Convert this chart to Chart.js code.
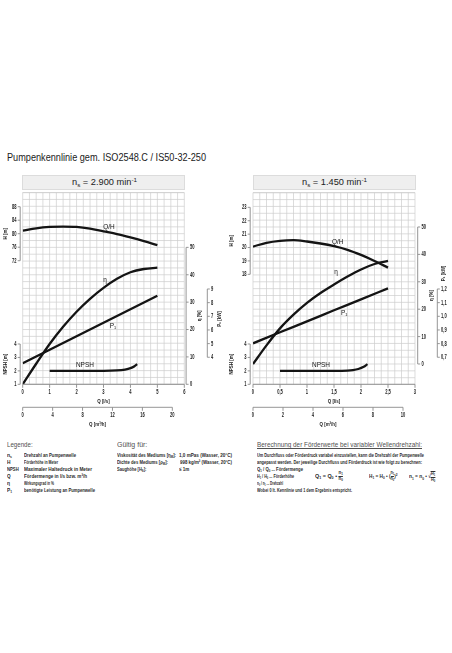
<!DOCTYPE html>
<html><head><meta charset="utf-8">
<script src="https://cdn.jsdelivr.net/npm/chart.js@4.4.0/dist/chart.umd.min.js"></script>
<style>
html,body{margin:0;padding:0;background:#fff;width:452px;height:653px;overflow:hidden;font-family:"Liberation Sans",Arial,sans-serif;color:#222}
.t{position:absolute;white-space:nowrap;line-height:1;transform-origin:0 50%;}
.b{font-weight:bold;font-size:5.6px;color:#2a2a2a}
.h{font-size:7.2px;color:#505050}
.u{text-decoration:underline;text-decoration-thickness:0.5px}
sub{font-size:0.68em;vertical-align:-0.3em;line-height:0}
sup{font-size:0.68em;vertical-align:0.45em;line-height:0}
.fr{display:inline-block;vertical-align:middle;text-align:center;font-size:0.8em;line-height:1}
.fr>span{display:block}
.fr>span:first-child{border-bottom:0.5px solid #333}
.ov{border-top:0.5px solid #333}
.box{position:absolute;background:#efefef;border:1px solid #dcdcdc;box-sizing:border-box}
canvas{position:absolute}
</style></head><body>

<div class="t" data-x="6.7" data-y="157.7" data-w="199" style="font-size:10.5px;color:#1a1a1a">Pumpenkennlinie gem. ISO2548.C / IS50-32-250</div>

<div class="box" style="left:22.3px;top:175px;width:162.3px;height:14.5px"></div>
<div class="box" style="left:253px;top:175px;width:162.7px;height:14.5px"></div>
<div class="t" data-x="72" data-y="182.3" data-w="65" style="font-size:9px">n<sub>s</sub> = 2.900 min<sup>-1</sup></div>
<div class="t" data-x="301.7" data-y="182.3" data-w="65" style="font-size:9px">n<sub>s</sub> = 1.450 min<sup>-1</sup></div>

<canvas id="cL" width="226" height="265" style="left:0;top:165px"></canvas>
<canvas id="cR" width="226" height="265" style="left:226px;top:165px"></canvas>

<!-- Legende -->
<div class="t h" data-x="6.7" data-y="445" data-w="25.6">Legende:</div>
<div class="t b" data-x="7" data-y="455.5" data-w="5">n<sub>s</sub></div>
<div class="t b" data-x="7" data-y="462.5" data-w="3.5">H</div>
<div class="t b" data-x="7" data-y="469.5" data-w="11.7">NPSH</div>
<div class="t b" data-x="7" data-y="476.5" data-w="3.6">Q</div>
<div class="t b" data-x="7" data-y="483.5" data-w="3">η</div>
<div class="t b" data-x="7" data-y="490.5" data-w="5">P<sub>1</sub></div>
<div class="t b" data-x="24" data-y="455.5" data-w="52">Drehzahl an Pumpenwelle</div>
<div class="t b" data-x="24" data-y="462.5" data-w="34">Förderhöhe in Meter</div>
<div class="t b" data-x="24" data-y="469.5" data-w="68">Maximaler Haltedruck in Meter</div>
<div class="t b" data-x="24" data-y="476.5" data-w="63">Fördermenge in l/s bzw. m³/h</div>
<div class="t b" data-x="24" data-y="483.5" data-w="30">Wirkungsgrad in %</div>
<div class="t b" data-x="24" data-y="490.5" data-w="71">benötigte Leistung an Pumpenwelle</div>

<!-- Gültig für -->
<div class="t h" data-x="117.3" data-y="445" data-w="30.3">Gültig für:</div>
<div class="t b" data-x="117.3" data-y="455.5" data-w="59">Viskosität des Mediums [η<sub>M</sub>]:</div>
<div class="t b" data-x="179" data-y="455.5" data-w="53">1,0 mPas (Wasser, 20°C)</div>
<div class="t b" data-x="117.3" data-y="462.5" data-w="51">Dichte des Mediums [ρ<sub>M</sub>]:</div>
<div class="t b" data-x="180" data-y="462.5" data-w="52">998 kg/m³ (Wasser, 20°C)</div>
<div class="t b" data-x="117.3" data-y="469.5" data-w="29.4">Saughöhe [H<sub>S</sub>]:</div>
<div class="t b" data-x="179" data-y="469.5" data-w="10.3">≤ 1m</div>

<!-- Berechnung -->
<div class="t h u" data-x="256.7" data-y="445" data-w="165">Berechnung der Förderwerte bei variabler Wellendrehzahl:</div>
<div class="t b" data-x="257" data-y="455.5" data-w="167">Um Durchfluss oder Förderdruck variabel einzustellen, kann die Drehzahl der Pumpenwelle</div>
<div class="t b" data-x="257" data-y="462.5" data-w="165">angepasst werden. Der jeweilige Durchfluss und Förderdruck ist wie folgt zu berechnen:</div>
<div class="t b" data-x="257" data-y="469.5" data-w="46">Q<sub>1</sub> / Q<sub>0</sub> ... Fördermenge</div>
<div class="t b" data-x="257" data-y="476.5" data-w="37">H<sub>1</sub> / H<sub>0</sub> ... Förderhöhe</div>
<div class="t b" data-x="315" data-y="476.5" data-s="0.9" style="font-size:6px">Q<sub>1</sub> = Q<sub>0</sub> • <span class="fr"><span>n<sub>1</sub></span><span>n<sub>0</sub></span></span></div>
<div class="t b" data-x="369" data-y="476.5" data-s="0.78" style="font-size:6px">H<sub>1</sub> = H<sub>0</sub> • (<span class="fr"><span>n<sub>1</sub></span><span>n<sub>0</sub></span></span>)<sup>2</sup></div>
<div class="t b" data-x="409" data-y="476.5" data-s="0.8" style="font-size:6px">n<sub>1</sub> = n<sub>0</sub> • √<span class="fr ov"><span>H<sub>1</sub></span><span>H<sub>0</sub></span></span></div>
<div class="t b" data-x="257" data-y="483.5" data-w="26">n<sub>0</sub> / n<sub>1</sub> ... Drehzahl</div>
<div class="t b" data-x="257" data-y="490.5" data-w="95">Wobei 0 lt. Kennlinie und 1 dem Ergebnis entspricht.</div>

<script>
// ================= DATA =================
// left panel: n = 2.900 min-1, Q in l/s
const qHeadL  = [0, 0.5, 1, 1.5, 2, 2.5, 3, 3.5, 4, 4.5, 5];
const headL   = [80.9, 81.6, 82.0, 82.1, 82.0, 81.5, 80.7, 79.9, 78.9, 77.8, 76.6];
const qEtaL   = [0, 0.5, 1, 1.5, 2, 2.5, 3, 3.5, 4, 4.5, 5];
const etaL    = [0, 7.5, 14.7, 21.0, 26.5, 31.2, 35.2, 38.5, 40.9, 42.1, 42.6];
const qPowerL = [0, 1, 2, 3, 4, 5];
const powerL  = [3.56, 4.55, 5.54, 6.53, 7.52, 8.51];
const qNpshL  = [1, 2, 3, 3.5, 3.8, 4, 4.15, 4.25];
const npshL   = [2.0, 2.0, 2.0, 2.03, 2.1, 2.2, 2.35, 2.5];

// right panel: n = 1.450 min-1
const qHeadR  = [0, 0.25, 0.5, 0.75, 1, 1.25, 1.5, 1.75, 2, 2.25, 2.5];
const headR   = [20.07, 20.35, 20.5, 20.55, 20.45, 20.3, 20.1, 19.83, 19.45, 19.0, 18.5];
const qEtaR   = [0, 0.25, 0.5, 0.75, 1, 1.25, 1.5, 1.75, 2, 2.25, 2.5];
const etaR    = [0, 6.8, 13.0, 18.0, 22.3, 25.9, 29.0, 31.9, 34.5, 36.5, 37.6];
const qPowerR = [0, 0.5, 1, 1.5, 2, 2.5];
const powerR  = [0.802, 0.883, 0.963, 1.044, 1.124, 1.205];
const qNpshR  = [0.5, 1, 1.5, 1.75, 1.85, 1.95, 2.05, 2.12];
const npshR   = [2.0, 2.0, 2.0, 2.02, 2.06, 2.14, 2.3, 2.5];

// tick labels
const headTicksL  = [72, 76, 80, 84, 88];
const headTicksR  = [18, 19, 20, 21, 22, 23];
const npshTicks   = [1, 2, 3, 4];
const etaTicks    = [0, 10, 20, 30, 40, 50];
const powerTicksL = [4, 5, 6, 7, 8, 9];
const powerTicksR = [0.7, 0.8, 0.9, 1.0, 1.1, 1.2];
const qTicksL     = [0, 1, 2, 3, 4, 5, 6];
const qTicksR     = [0, 0.5, 1, 1.5, 2, 2.5, 3];
const m3hTicksL   = [0, 4, 8, 12, 16, 20];
const m3hTicksR   = [0, 2, 4, 6, 8, 10];
const curveNames  = ['Q/H', 'η', 'P₁', 'NPSH'];
const M3H_PER_LS  = 3.6;

// ================= HTML text fitting =================
document.querySelectorAll('[data-x]').forEach(el => {
  const r = el.getBoundingClientRect();
  el.style.left = el.dataset.x + 'px';
  el.style.top = (parseFloat(el.dataset.y) - r.height / 2) + 'px';
  const s = el.dataset.w ? parseFloat(el.dataset.w) / r.width : parseFloat(el.dataset.s || 1);
  el.style.transform = 'scaleX(' + s + ')';
});

// ================= helpers =================
const FONT = '"Liberation Sans", Arial, sans-serif';
function txt(ctx, s, x, y, o) {
  ctx.save();
  ctx.translate(x, y);
  if (o.rot) ctx.rotate(o.rot);
  ctx.scale(o.sx || 1, 1);
  ctx.font = (o.bold ? 'bold ' : '') + o.size + 'px ' + FONT;
  ctx.fillStyle = o.color || '#222';
  ctx.textAlign = o.align || 'center';
  ctx.textBaseline = 'middle';
  ctx.fillText(s, 0, 0);
  ctx.restore();
}
const fmt = (v, dec) => (dec ? v.toFixed(dec) : String(v)).replace('.', ',');
const TICK = {size: 7, bold: true, sx: 0.58, color: '#1e1e1e'};
const TITLE = {size: 6.2, bold: true, sx: 0.72, color: '#1e1e1e'};
const AXC = '#8a8a8a';

function vAxis(ctx, scale, ticks, lineX, side, dec, title, titleX, titleY) {
  const y0 = scale.getPixelForValue(ticks[0]), y1 = scale.getPixelForValue(ticks[ticks.length - 1]);
  ctx.save(); ctx.strokeStyle = AXC; ctx.lineWidth = 0.9;
  ctx.beginPath(); ctx.moveTo(lineX, y0); ctx.lineTo(lineX, y1);
  ticks.forEach(v => { const py = scale.getPixelForValue(v);
    ctx.moveTo(lineX, py); ctx.lineTo(side === 'left' ? lineX - 2.5 : lineX + 2.5, py); });
  ctx.stroke(); ctx.restore();
  ticks.forEach(v => { const py = scale.getPixelForValue(v);
    txt(ctx, fmt(v, dec), side === 'left' ? lineX - 3.8 : lineX + 3.8, py,
        Object.assign({align: side === 'left' ? 'right' : 'left'}, TICK)); });
  txt(ctx, title, titleX, titleY != null ? titleY : (y0 + y1) / 2, Object.assign({rot: -Math.PI / 2}, TITLE));
}
function hAxis(ctx, scale, ticks, lineY, title) {
  const x0 = scale.getPixelForValue(ticks[0]), x1 = scale.getPixelForValue(ticks[ticks.length - 1]);
  ctx.save(); ctx.strokeStyle = AXC; ctx.lineWidth = 0.9;
  ctx.beginPath(); ctx.moveTo(x0, lineY); ctx.lineTo(x1, lineY);
  ticks.forEach(v => { const px = scale.getPixelForValue(v); ctx.moveTo(px, lineY); ctx.lineTo(px, lineY + 3.5); });
  ctx.stroke(); ctx.restore();
  ticks.forEach(v => txt(ctx, fmt(v, 0), scale.getPixelForValue(v), lineY + 7.4, TICK));
  txt(ctx, title, (x0 + x1) / 2, lineY + 16.5, TITLE);
}

function panelPlugin(P) {
  return {
    id: 'panel' + P.id,
    beforeDatasetsDraw(chart) {
      const {ctx, chartArea: a, scales: s} = chart;
      ctx.save(); ctx.strokeStyle = '#cdcdcd'; ctx.lineWidth = 0.7; ctx.beginPath();
      const nx = Math.round((s.x.max - s.x.min) / P.gridQ);
      for (let i = 0; i <= nx; i++) { const px = s.x.getPixelForValue(s.x.min + i * P.gridQ);
        ctx.moveTo(px, a.top); ctx.lineTo(px, a.bottom); }
      const e0 = Math.ceil(s.yE.min / P.gridEta - 1e-6);
      const e1 = Math.floor(s.yE.max / P.gridEta + 1e-6);
      for (let i = e0; i <= e1; i++) { const py = s.yE.getPixelForValue(i * P.gridEta);
        ctx.moveTo(a.left, py); ctx.lineTo(a.right, py); }
      ctx.moveTo(a.left, a.top); ctx.lineTo(a.right, a.top);
      ctx.moveTo(a.left, a.bottom); ctx.lineTo(a.right, a.bottom);
      ctx.stroke(); ctx.restore();
    },
    afterDatasetsDraw(chart) {
      const {ctx, chartArea: a, scales: s} = chart;
      const L = P.lay;
      vAxis(ctx, s.yH, P.headTicks, a.left - L.lx, 'left', 0, 'H [m]', a.left - L.ltx);
      vAxis(ctx, s.yN, npshTicks, a.left - L.lx, 'left', 0, 'NPSH [m]', a.left - L.ltx);
      vAxis(ctx, s.yE, etaTicks, a.right + L.ex, 'right', 0, 'η [%]', a.right + L.etx);
      vAxis(ctx, s.yP, P.powerTicks, a.right + L.px, 'right', P.pDec, 'P₁ [kW]', a.right + L.ptx, L.pty);
      hAxis(ctx, s.x, P.qTicks, a.bottom, 'Q [l/s]');
      hAxis(ctx, s.xm, P.m3hTicks, a.bottom + 23, 'Q [m³/h]');
      P.names.forEach((n, i) => {
        const sc = s[n.axis];
        txt(ctx, curveNames[i], s.x.getPixelForValue(n.q), sc.getPixelForValue(n.v),
            {size: 7.6, sx: 0.85, color: '#151515'});
      });
    }
  };
}

function series(qs, vs) { return qs.map((q, i) => ({x: q, y: vs[i]})); }

function makeChart(P) {
  const style = {borderColor: '#141414', borderWidth: 2.3, pointRadius: 0, fill: false,
                 cubicInterpolationMode: 'monotone', xAxisID: 'x'};
  return new Chart(document.getElementById(P.id), {
    type: 'line',
    data: {datasets: [
      Object.assign({label: curveNames[0], data: series(P.qHead, P.head), yAxisID: 'yH'}, style),
      Object.assign({label: curveNames[1], data: series(P.qEta, P.eta), yAxisID: 'yE'}, style),
      Object.assign({label: curveNames[2], data: series(P.qPower, P.power), yAxisID: 'yP'}, style),
      Object.assign({label: curveNames[3], data: series(P.qNpsh, P.npsh), yAxisID: 'yN'}, style)
    ]},
    options: {
      responsive: false, animation: false, events: [],
      layout: {padding: P.pad},
      plugins: {legend: {display: false}, tooltip: {enabled: false}},
      scales: {
        x:  {type: 'linear', display: false, bounds: 'data', min: 0, max: P.qMax},
        xm: {type: 'linear', axis: 'x', display: false, bounds: 'data', min: 0, max: P.qMax * M3H_PER_LS},
        yH: {type: 'linear', display: false, bounds: 'data', min: P.hRange[0], max: P.hRange[1]},
        yN: {type: 'linear', display: false, bounds: 'data', min: P.nRange[0], max: P.nRange[1]},
        yE: {type: 'linear', display: false, bounds: 'data', min: P.eRange[0], max: P.eRange[1]},
        yP: {type: 'linear', display: false, bounds: 'data', min: P.pRange[0], max: P.pRange[1]}
      }
    },
    plugins: [panelPlugin(P)]
  });
}

makeChart({
  id: 'cL', qMax: 6, gridQ: 0.25, gridEta: 2.5,
  pad: {left: 22.7, right: 41.7, top: 27.6, bottom: 45.7},
  hRange: [35.38, 92.18], nRange: [1, 15.27], eRange: [0, 70], pRange: [2.02, 16.06],
  qHead: qHeadL, head: headL, qEta: qEtaL, eta: etaL, qPower: qPowerL, power: powerL, qNpsh: qNpshL, npsh: npshL,
  headTicks: headTicksL, powerTicks: powerTicksL, pDec: 0, qTicks: qTicksL, m3hTicks: m3hTicksL,
  lay: {lx: 2.5, ltx: 17.4, ex: 1.8, etx: 14.7, px: 23, ptx: 35, pty: 154},
  names: [{q: 3.2, v: 81.9, axis: 'yH'}, {q: 3.06, v: 38.1, axis: 'yE'},
          {q: 3.35, v: 6.29, axis: 'yP'}, {q: 2.31, v: 2.44, axis: 'yN'}]
});
makeChart({
  id: 'cR', qMax: 3, gridQ: 0.125, gridEta: 2.5,
  pad: {left: 27, right: 37, top: 27.6, bottom: 45.7},
  hRange: [9.79, 24.1], nRange: [1, 15.27], eRange: [-7.41, 62.55], pRange: [0.502, 1.906],
  qHead: qHeadR, head: headR, qEta: qEtaR, eta: etaR, qPower: qPowerR, power: powerR, qNpsh: qNpshR, npsh: npshR,
  headTicks: headTicksR, powerTicks: powerTicksR, pDec: 1, qTicks: qTicksR, m3hTicks: m3hTicksR,
  lay: {lx: 2.8, ltx: 21.3, ex: 2.7, etx: 16, px: 22.3, ptx: 28, pty: 108.5},
  names: [{q: 1.57, v: 20.4, axis: 'yH'}, {q: 1.54, v: 33.5, axis: 'yE'},
          {q: 1.69, v: 1.024, axis: 'yP'}, {q: 1.26, v: 2.44, axis: 'yN'}]
});
</script>
</body></html>
